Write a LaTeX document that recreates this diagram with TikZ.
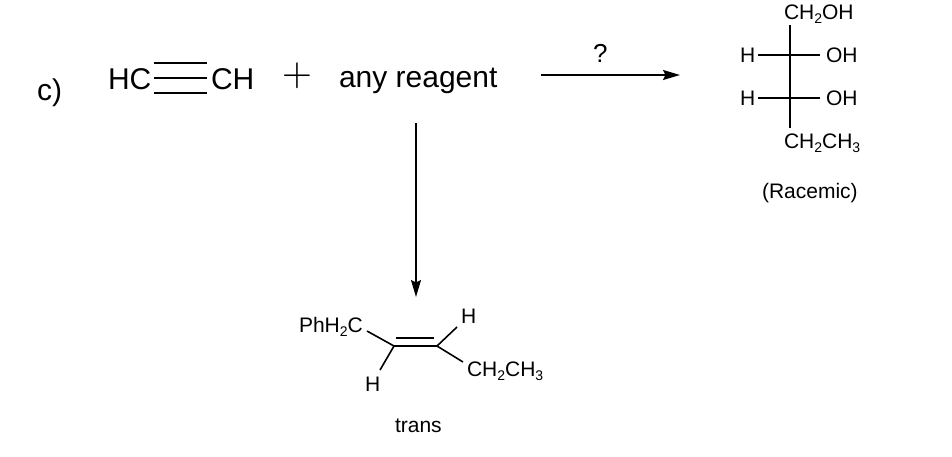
\documentclass[tikz,border=0pt]{standalone}
\usepackage{fontspec}
\setmainfont{Liberation Sans}
\usetikzlibrary{arrows.meta}
\newcommand{\lowsub}[1]{\raisebox{-0.22em}{\fontsize{14}{16}\selectfont #1}}
\tikzset{
  big/.style={anchor=base west,inner sep=0pt,outer sep=0pt,font=\fontsize{30}{34}\selectfont},
  small/.style={anchor=base west,inner sep=0pt,outer sep=0pt,font=\fontsize{21}{25}\selectfont},
  bond/.style={line width=1.6pt,black},
  rxn/.style={line width=1.8pt,black,-{Stealth[length=17pt,width=10pt,inset=2.5pt]}},
  thinbond/.style={line width=1.6pt,black}
}
\begin{document}
\begin{tikzpicture}[x=1pt,y=-1pt]
\useasboundingbox (0,0) rectangle (952,456);
% left reaction
\node[big] (c) at (37,100) {c)};
\node[big] (hc) at (108,89) {HC};
\node[big] (ch) at (211,89) {CH};
\node[inner sep=0pt] (plus) at (297,76) {\scalebox{3.9}{$+$}};
\node[big] (reagent) at (339,87) {any reagent};
\node[small,font=\fontsize{26}{30}\selectfont] (q) at (593,62) {?};
\coordinate (t1a) at (154,63); \coordinate (t1b) at (207,63);
\coordinate (t2a) at (154,78); \coordinate (t2b) at (207,78);
\coordinate (t3a) at (154,93); \coordinate (t3b) at (207,93);
\draw[thinbond] (t1a) -- (t1b);
\draw[thinbond] (t2a) -- (t2b);
\draw[thinbond] (t3a) -- (t3b);
\coordinate (ra) at (541,75); \coordinate (rb) at (680,75);
\draw[rxn] (ra) -- (rb);
\coordinate (da) at (416,123); \coordinate (db) at (416,297);
\draw[rxn] (da) -- (db);
% Fischer projection
\node[small] (top) at (784,19) {CH\lowsub{2}OH};
\node[small] (h1) at (740,62) {H};
\node[small] (oh1) at (826,62) {OH};
\node[small] (h2) at (740,105) {H};
\node[small] (oh2) at (826,105) {OH};
\node[small] (bot) at (784,148) {CH\lowsub{2}CH\lowsub{3}};
\node[small] (rac) at (762,198) {(Racemic)};
\coordinate (vt) at (790,25); \coordinate (vb) at (790,128);
\coordinate (c1l) at (758,55); \coordinate (c1r) at (820,55);
\coordinate (c2l) at (758,98); \coordinate (c2r) at (820,98);
\draw[bond] (vt) -- (vb);
\draw[bond] (c1l) -- (c1r);
\draw[bond] (c2l) -- (c2r);
% alkene
\node[small] (ph) at (299,332) {PhH\lowsub{2}C};
\node[small] (hd) at (365,391) {H};
\node[small] (hu) at (461,323) {H};
\node[small] (et) at (467,376) {CH\lowsub{2}CH\lowsub{3}};
\node[small] (trans) at (395,432) {trans};
\coordinate (cl) at (394,346); \coordinate (cr) at (437,346);
\coordinate (il) at (396,338); \coordinate (ir) at (434,338);
\coordinate (pb) at (367,331); \coordinate (hb) at (380,370);
\coordinate (ub) at (457,327); \coordinate (eb) at (463,362);
\draw[bond] (cl) -- (cr);
\draw[bond] (il) -- (ir);
\draw[bond] (pb) -- (cl) -- (hb);
\draw[bond] (ub) -- (cr) -- (eb);
\end{tikzpicture}
\end{document}
